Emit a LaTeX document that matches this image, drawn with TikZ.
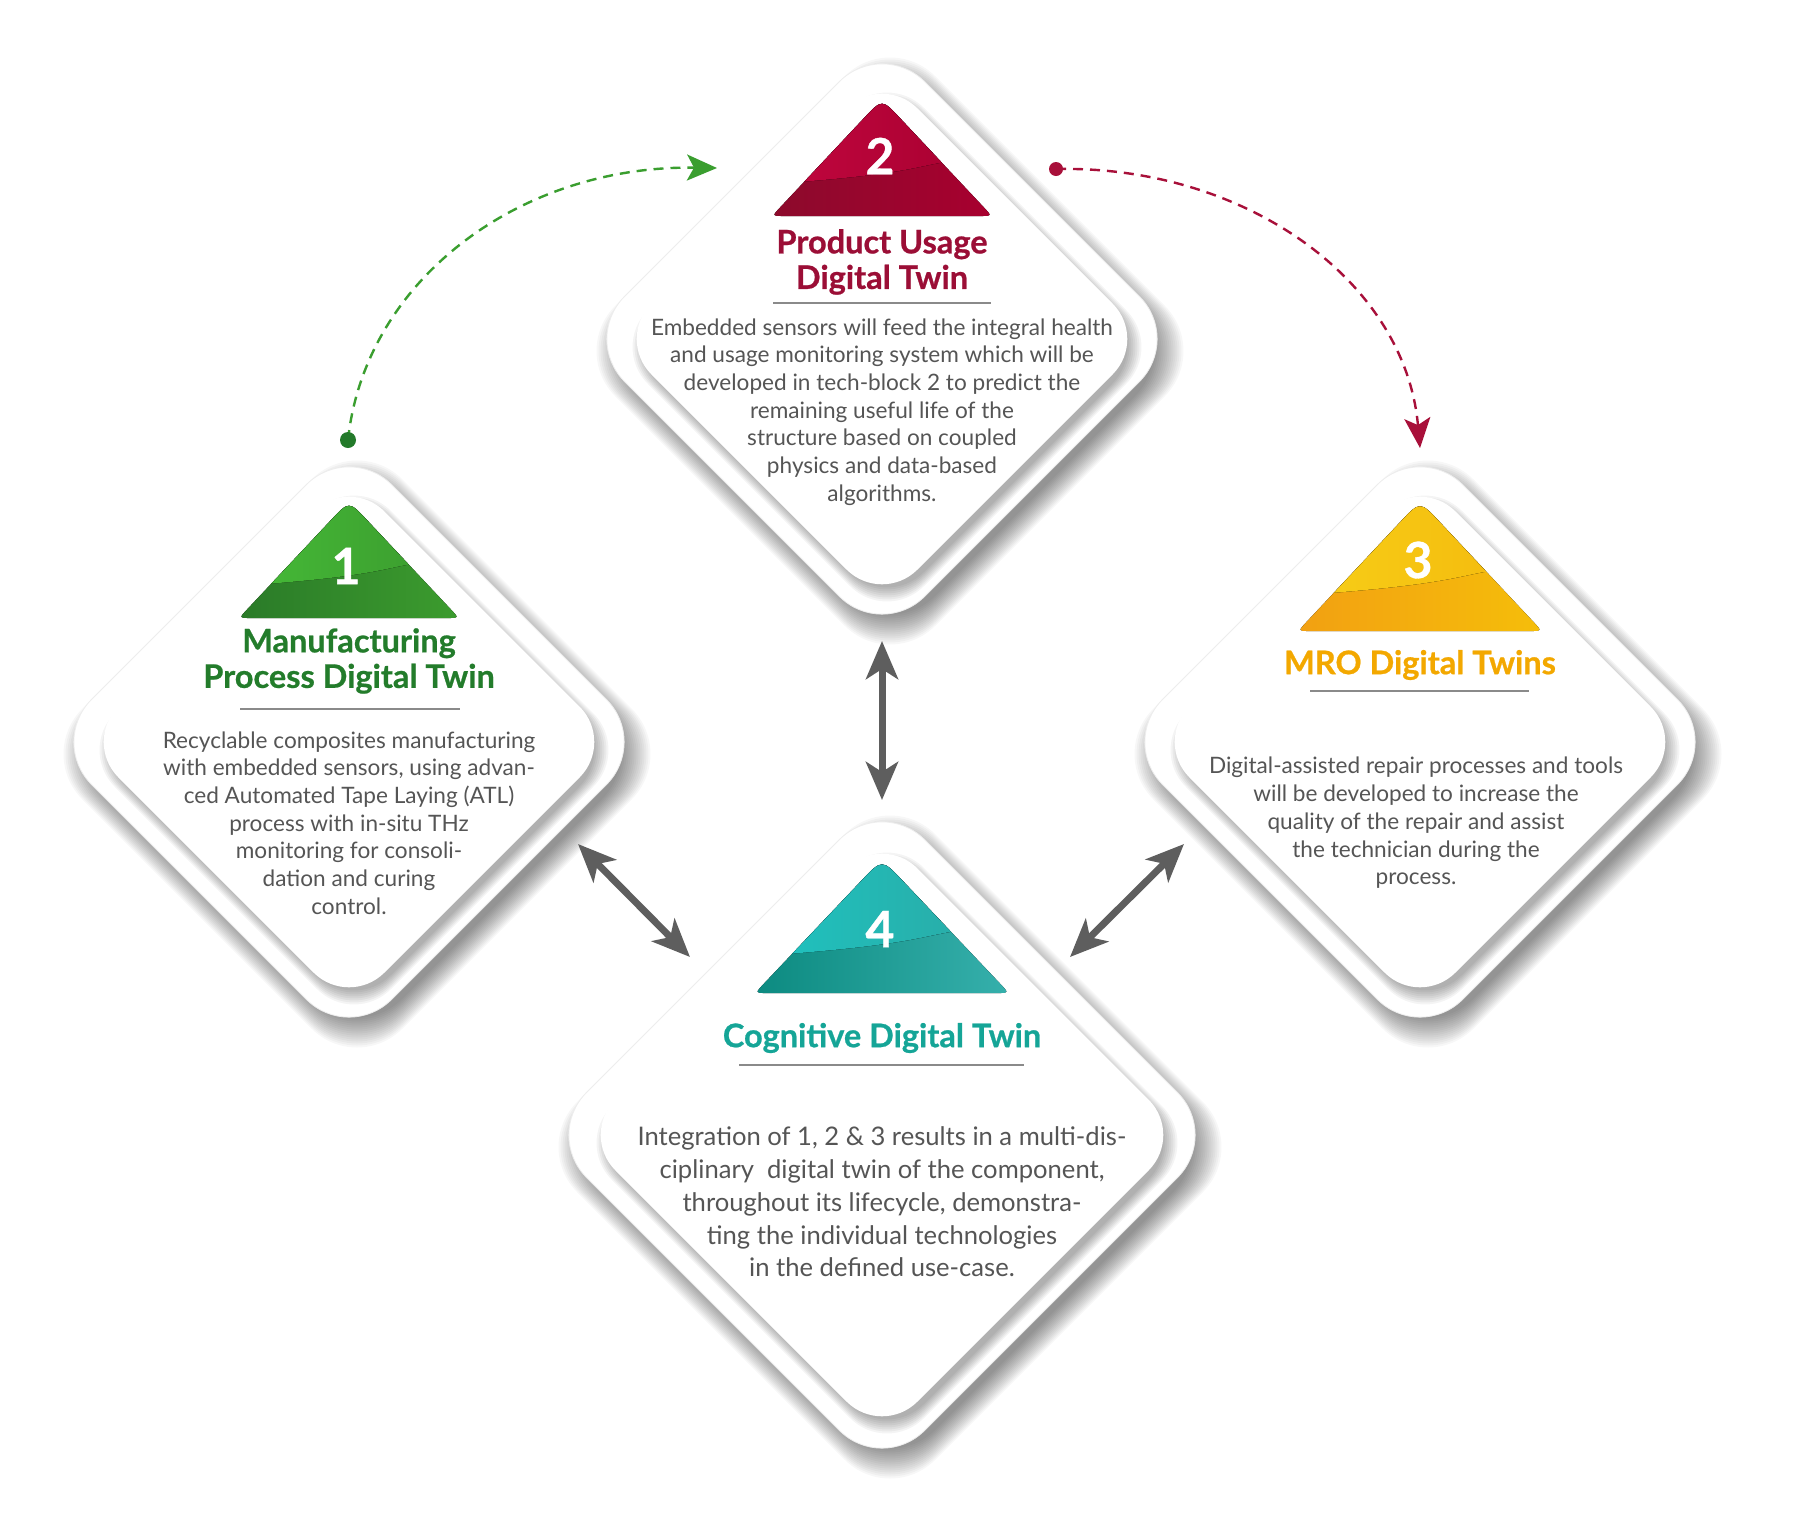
\documentclass[tikz,border=0pt]{standalone}
\usepackage{fontspec}
\setmainfont{Lato}
\newfontfamily\heavyfont{Lato}[UprightFont=* Bold, FakeBold=0.7]
\usetikzlibrary{arrows.meta}
\definecolor{txt}{HTML}{555555}
\definecolor{rulec}{HTML}{8A8A8A}
\definecolor{arrg}{HTML}{5E5E5E}
% green
\definecolor{gTitle}{HTML}{237C2B}
\definecolor{gBandL}{HTML}{2A7A28}
\definecolor{gBandR}{HTML}{3C9C2E}
\definecolor{gMain}{HTML}{3A982D}
\definecolor{gHi}{HTML}{46BC38}
\definecolor{gDash}{HTML}{3A9E2F}
\definecolor{gDot}{HTML}{237A2A}
% red
\definecolor{rTitle}{HTML}{9B0E36}
\definecolor{rBandL}{HTML}{8C0A2C}
\definecolor{rBandR}{HTML}{A8002F}
\definecolor{rMain}{HTML}{A6002F}
\definecolor{rHi}{HTML}{C2073F}
\definecolor{rDash}{HTML}{A8103A}
% orange
\definecolor{oTitle}{HTML}{F3A800}
\definecolor{oBandL}{HTML}{F2A012}
\definecolor{oBandR}{HTML}{F5BE0A}
\definecolor{oMain}{HTML}{F4B80C}
\definecolor{oHi}{HTML}{F7CF18}
% teal
\definecolor{tTitle}{HTML}{15A597}
\definecolor{tBandL}{HTML}{0C8A80}
\definecolor{tBandR}{HTML}{36B0AC}
\definecolor{tMain}{HTML}{2BA8A3}
\definecolor{tHi}{HTML}{1EC4C1}

% rounded diamond: #1 options, #2 cx, #3 cy, #4 half-diagonal
\newcommand\rdia[4]{%
  \path[#1] ({#2},{#3-(#4)}) -- ({#2+#4},{#3}) -- ({#2},{#3+#4}) -- ({#2-(#4)},{#3}) -- cycle;}

% tile: #1 cx, #2 cy, #3 outer h, #4 inner h
\newcommand\tileshadow[4]{%
  \foreach \k in {0,...,15}{\rdia{fill=black,fill opacity=0.032,rounded corners=64pt}{#1+8}{#2+12}{#3-10+2*\k}}}
\newcommand\tilebase[4]{%
  \rdia{fill=white,draw=black!7,line width=0.8pt,rounded corners=60pt}{#1}{#2}{#3}
  \foreach \k in {0,...,7}{\rdia{fill=black,fill opacity=0.045,rounded corners=52pt}{#1+5}{#2+8}{#4-4+2*\k}}
  \rdia{fill=white,rounded corners=50pt}{#1}{#2}{#4}}

% triangle: #1 cx, #2 base y, #3 H, #4 W, #5 band left, #6 band right, #7 main, #8 highlight
\newcommand\tritile[8]{%
  \begin{scope}
  \clip ({#1},{#2}) -- ({#1-#4+10},{#2}) .. controls ({#1-#4},{#2}) .. ({#1-0.92*#4},{#2-0.08*#3})
     -- ({#1-0.16*#4},{#2-0.84*#3}) .. controls ({#1},{#2-#3}) .. ({#1+0.16*#4},{#2-0.84*#3})
     -- ({#1+0.92*#4},{#2-0.08*#3}) .. controls ({#1+#4},{#2}) .. ({#1+#4-10},{#2}) -- cycle;
  \fill[left color=#5,right color=#6] ({#1-#4-2},{#2-#3-2}) rectangle ({#1+#4+2},{#2+2});
  \fill[left color=#8,right color=#7] ({#1-#4-2},{#2-0.27*#3}) .. controls ({#1-0.5*#4},{#2-0.31*#3}) and ({#1-0.05*#4},{#2-0.34*#3}) .. ({#1+0.35*#4},{#2-0.42*#3})
     .. controls ({#1+0.6*#4},{#2-0.47*#3}) .. ({#1+#4+2},{#2-0.5*#3})
     -- ({#1+#4+2},{#2-#3-2}) -- ({#1-#4-2},{#2-#3-2}) -- cycle;
  \end{scope}}

\tikzset{
  tilebody/.style={text=txt, align=center, inner sep=0pt, font=\fontsize{22.6}{27.7}\selectfont},
  bigbody/.style={text=txt, align=center, inner sep=0pt, font=\fontsize{25.6}{32.7}\selectfont},
  tiletitle/.style={align=center, inner sep=0pt, font=\heavyfont\fontsize{32.5}{35.5}\selectfont},
  tilenum/.style={text=white, inner sep=0pt, font=\heavyfont\fontsize{50}{50}\selectfont},
  tilerule/.style={draw=rulec, line width=1.4pt},
  flowarrow/.style={line width=2.4pt, dash pattern=on 10pt off 7pt, -{Stealth[length=30pt,width=26pt,inset=7pt]}},
  linkarrow/.style={draw=arrg, line width=7pt, {Stealth[length=38pt,width=32pt,inset=10pt]}-{Stealth[length=38pt,width=32pt,inset=10pt]}}
}

\begin{document}
\begin{tikzpicture}[x=1pt,y=-1pt]
\useasboundingbox (0,0) rectangle (1800,1535);
\fill[white] (0,0) rectangle (1800,1535);

% centres
\coordinate (tile1) at (349,742);
\coordinate (tile2) at (882,339);
\coordinate (tile3) at (1420,742);
\coordinate (tile4) at (882,1135);

% shadows
\tileshadow{349}{742}{300}{266}
\tileshadow{882}{339}{300}{266}
\tileshadow{1420}{742}{300}{266}
\tileshadow{882}{1135}{338}{302}

% tiles
\tilebase{349}{742}{300}{266}
\tilebase{882}{339}{300}{266}
\tilebase{1420}{742}{300}{266}
\tilebase{882}{1135}{338}{302}

% triangles
\tritile{349}{618}{117}{110}{gBandL}{gBandR}{gMain}{gHi}
\tritile{882}{216}{117}{110}{rBandL}{rBandR}{rMain}{rHi}
\tritile{1420}{631}{130}{122}{oBandL}{oBandR}{oMain}{oHi}
\tritile{882}{993}{134}{127}{tBandL}{tBandR}{tMain}{tHi}

% numbers
\node[tilenum] (n1) at (346,566) {1};
\node[tilenum] (n2) at (880,156) {2};
\node[tilenum] (n3) at (1418,560) {3};
\node[tilenum] (n4) at (880,929) {4};

% titles
\node[tiletitle, text=gTitle] (h1) at (349,661) {Manufacturing\\Process Digital Twin};
\node[tiletitle, text=rTitle] (h2) at (882,262) {Product Usage\\Digital Twin};
\node[tiletitle, text=oTitle] (h3) at (1420,665) {MRO Digital Twins};
\node[tiletitle, text=tTitle] (h4) at (882,1038) {Cognitive Digital Twin};

% rules
\draw[tilerule] (240,709) -- (460,709);
\draw[tilerule] (773,303) -- (991,303);
\draw[tilerule] (1310,691) -- (1529,691);
\draw[tilerule] (739,1065) -- (1024,1065);

% bodies
\node[tilebody] (b1) at (349,823) {Recyclable composites manufacturing\\with embedded sensors, using advan-\\ced Automated Tape Laying (ATL)\\process with in-situ THz\\monitoring for consoli-\\dation and curing\\control.};
\node[tilebody] (b2) at (882,412) {Embedded sensors will feed the integral health\\and usage monitoring system which will be\\developed in tech-block 2 to predict the\\remaining useful life of the\\structure based on coupled\\physics and data-based\\algorithms.};
\node[tilebody] (b3) at (1416,823) {Digital-assisted repair processes and tools\\will be developed to increase the\\quality of the repair and assist\\the technician during the\\process.};
\node[bigbody] (b4) at (882,1202) {Integration of 1, 2 \& 3 results in a multi-dis-\\ciplinary\ \ digital twin of the component,\\throughout its lifecycle, demonstra-\\ting the individual technologies\\in the defined use-case.};

% dashed flow arrows
\coordinate (g0) at (348,440);
\coordinate (g1) at (717,168);
\coordinate (r0) at (1056,169);
\coordinate (r1) at (1420,448);
\draw[flowarrow, draw=gDash] (g0) .. controls (365,280) and (520,165) .. (g1);
\fill[gDot] (g0) circle[radius=8pt];
\draw[flowarrow, draw=rDash] (r0) .. controls (1244,165) and (1405,280) .. (r1);
\fill[rDash] (r0) circle[radius=7pt];

% link arrows
\coordinate (v0) at (882,641);
\coordinate (v1) at (882,800);
\coordinate (l0) at (578,844);
\coordinate (l1) at (690,957);
\coordinate (q0) at (1184,844);
\coordinate (q1) at (1070,957);
\draw[linkarrow] (v0) -- (v1);
\draw[linkarrow] (l0) -- (l1);
\draw[linkarrow] (q0) -- (q1);
\end{tikzpicture}
\end{document}
